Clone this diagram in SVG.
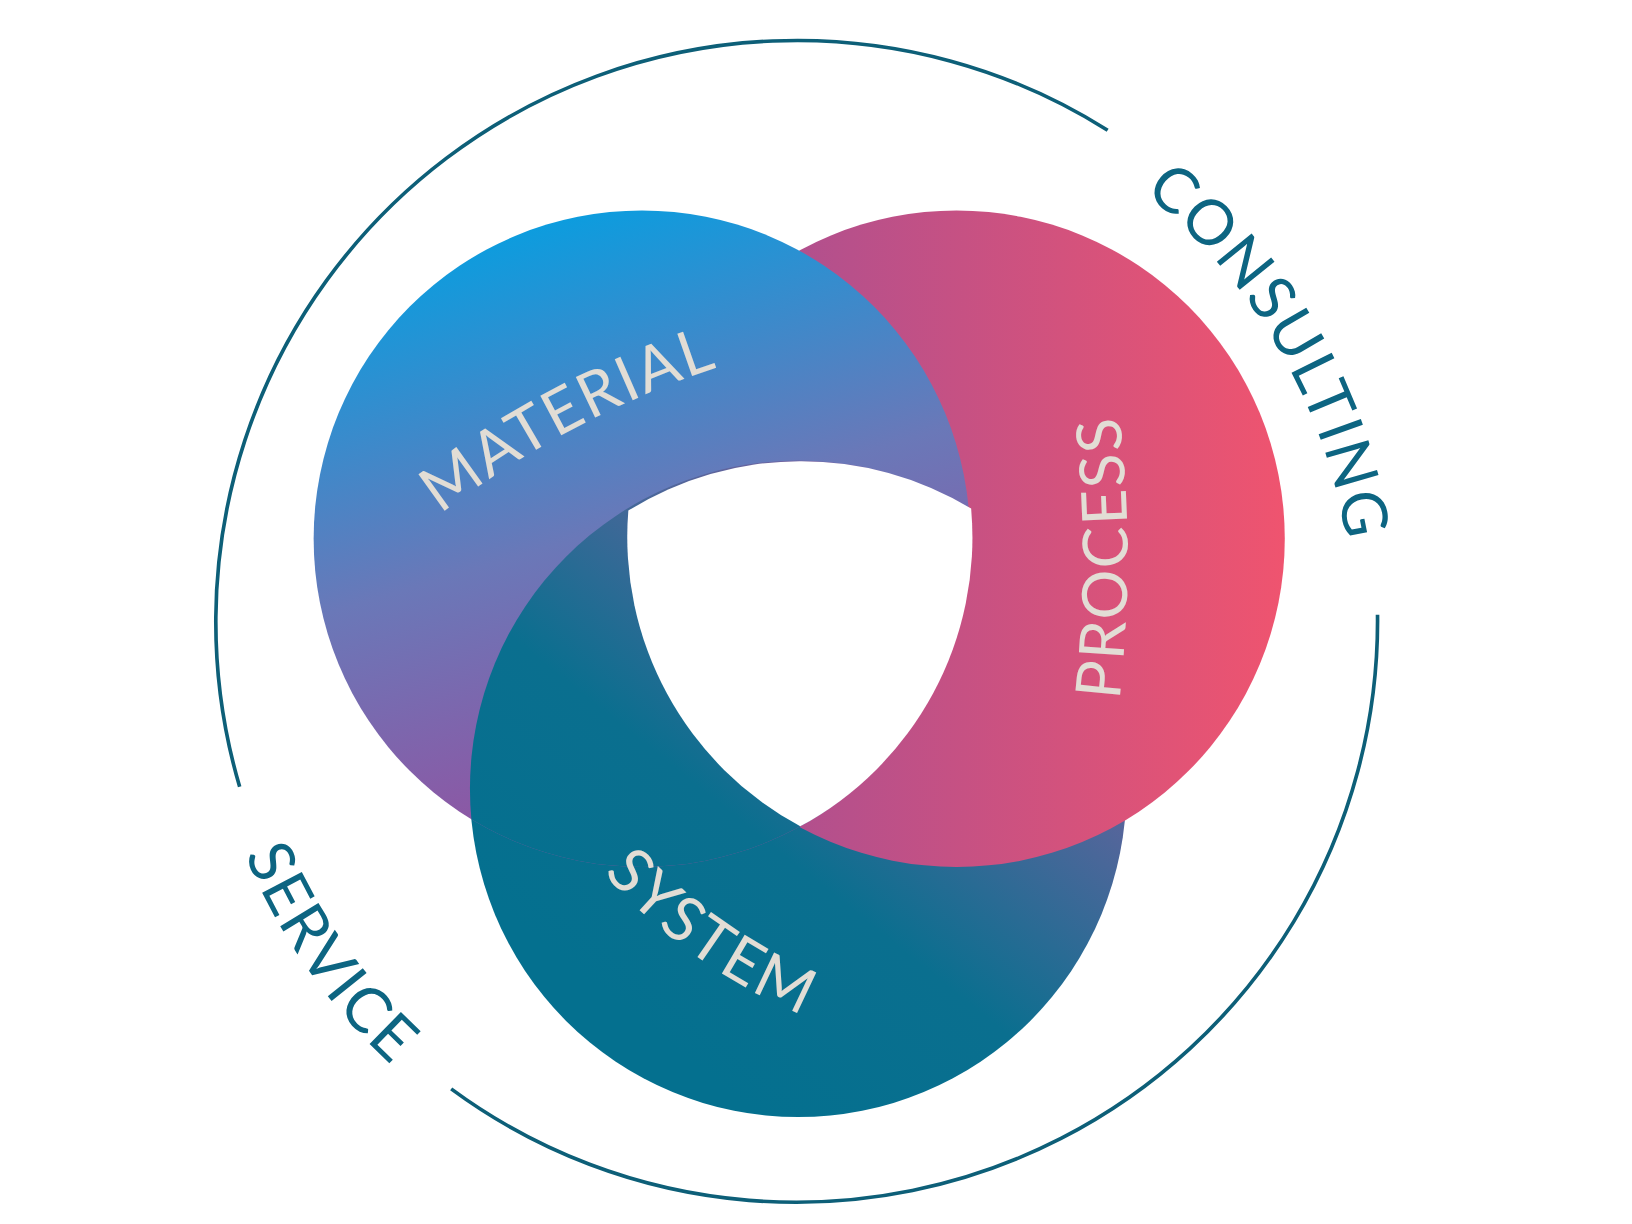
<svg xmlns="http://www.w3.org/2000/svg" width="1632" height="1224" viewBox="0 0 1632 1224">
<style>
.in{font-family:Lato,"Liberation Sans",sans-serif;fill:#e2ddd5;font-size:60px;letter-spacing:2px}
.out{font-family:Lato,"Liberation Sans",sans-serif;fill:#0d6582;font-size:60px;letter-spacing:2px}
.ring{fill:none;stroke:#0d5f78;stroke-width:3.5}
</style>
<defs>
<linearGradient id="gM" x1="0.25" y1="0" x2="0.55" y2="1"><stop offset="0" stop-color="#03a0e2"/><stop offset="0.5" stop-color="#6a78b8"/><stop offset="1" stop-color="#9a4a9c"/></linearGradient>
<linearGradient id="gP" x1="0" y1="0" x2="1" y2="0"><stop offset="0" stop-color="#9c4e98"/><stop offset="1" stop-color="#ef546f"/></linearGradient>
<linearGradient id="gS" x1="0.25" y1="0.85" x2="0.85" y2="0.1"><stop offset="0" stop-color="#04708f"/><stop offset="0.35" stop-color="#0a6f8f"/><stop offset="1" stop-color="#8e5ea4"/></linearGradient>
<clipPath id="cM"><circle cx="616" cy="517" r="315"/></clipPath>
<path id="tM" d="M390,520 A900,900 0 0 1 730,340"/>
<path id="tP" d="M1072,690 A1200,1200 0 0 0 1072,380"/>
<path id="tS" d="M560,815 A520,520 0 0 0 800,985"/>
<path id="tC" d="M1093,181 A532,532 0 0 1 1293,526"/>
<path id="tV" d="M226,797 A575,575 0 0 0 396,1040"/>
</defs>
<g transform="scale(1.042)">
<g id="connectors">
<path class="ring" d="M1063,125 A558,558 0 0 0 230,755"/>
<path class="ring" d="M1322,590 A558,558 0 0 1 433,1045"/>
</g>
<g id="system"><circle cx="766" cy="757" r="315" fill="url(#gS)"/></g>
<g id="process"><circle cx="918" cy="517" r="315" fill="url(#gP)"/></g>
<g id="material"><circle cx="616" cy="517" r="315" fill="url(#gM)"/></g>
<g id="system-over"><circle cx="766" cy="757" r="315" fill="url(#gS)" clip-path="url(#cM)"/></g>
<g id="hole"><path d="M603,490 A315,315 0 0 1 932,488 A315,315 0 0 1 768,793 A315,315 0 0 1 603,490 Z" fill="#fff"/></g>
<g id="labels">
<text class="in"><textPath href="#tM" startOffset="50%" text-anchor="middle">MATERIAL</textPath></text>
<text class="in"><textPath href="#tP" startOffset="50%" text-anchor="middle">PROCESS</textPath></text>
<text class="in"><textPath href="#tS" startOffset="50%" text-anchor="middle">SYSTEM</textPath></text>
<text class="out"><textPath href="#tC" startOffset="50%" text-anchor="middle">CONSULTING</textPath></text>
<text class="out"><textPath href="#tV" startOffset="50%" text-anchor="middle">SERVICE</textPath></text>
</g>
</g>
</svg>
